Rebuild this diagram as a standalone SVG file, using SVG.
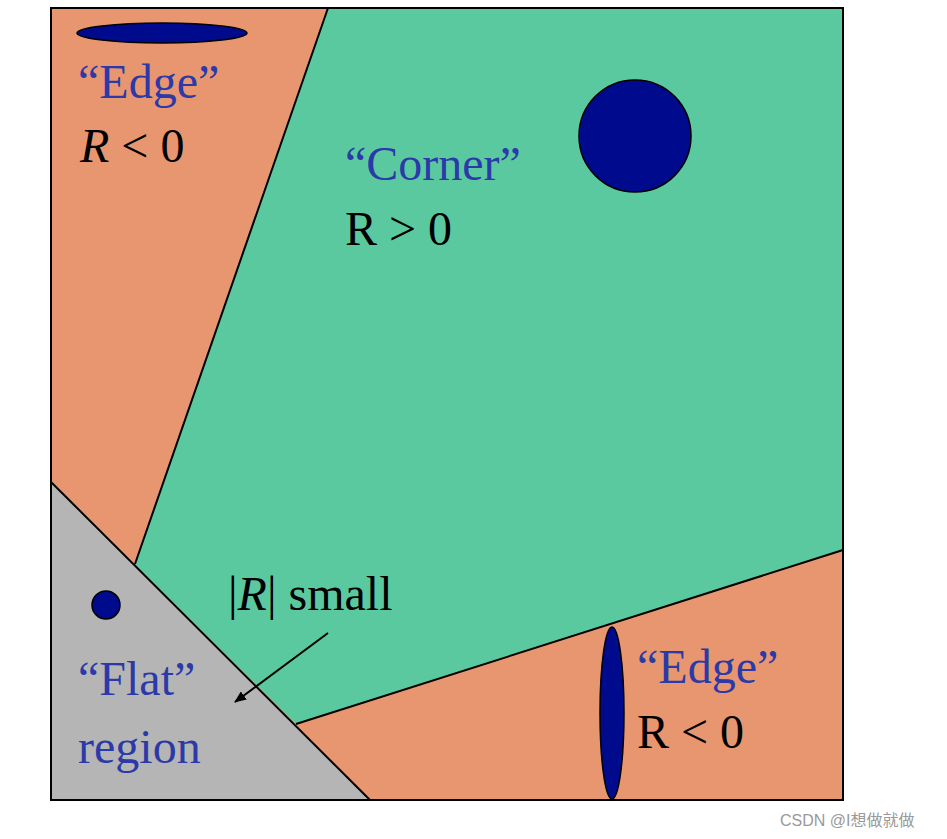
<svg xmlns="http://www.w3.org/2000/svg" width="947" height="839" viewBox="0 0 947 839">
<defs>
<style>
.t{font-family:"Liberation Serif",serif;font-size:48px}
.b{fill:#2b3aa8}
.k{fill:#000}
.blob{fill:#000a8c;stroke:#000;stroke-width:1.5}
.ln{stroke:#000;stroke-width:2;fill:none}
</style>
<marker id="ah" markerWidth="12" markerHeight="10" refX="11" refY="5" orient="auto" markerUnits="userSpaceOnUse">
<path d="M0,0 L12,5 L0,10 Z" fill="#000"/>
</marker>
</defs>
<rect width="947" height="839" fill="#fff"/>
<g id="edge-region"><rect x="51" y="8" width="792" height="792" fill="#e8966f"/></g>
<g id="corner-region"><polygon points="328,8 843,8 843,550 296,724 135,564" fill="#5bc9a0"/></g>
<g id="flat-region"><polygon points="51,482 370,800 51,800" fill="#b5b5b5"/></g>
<g id="connectors">
<polyline class="ln" points="328,8 135,564"/>
<polyline class="ln" points="843,550 296,724"/>
<polyline class="ln" points="51,482 370,800"/>
<line class="ln" x1="328" y1="633" x2="235" y2="702" marker-end="url(#ah)"/>
</g>
<rect x="51" y="8" width="792" height="792" fill="none" stroke="#000" stroke-width="2"/>
<g id="blobs">
<ellipse class="blob" cx="162" cy="33" rx="85" ry="10"/>
<circle class="blob" cx="635" cy="136" r="56"/>
<circle class="blob" cx="106" cy="605" r="14"/>
<ellipse class="blob" cx="612" cy="713" rx="12" ry="86"/>
</g>
<g id="labels">
<text class="t b" x="78" y="98">“Edge”</text>
<text class="t k" x="80" y="162"><tspan font-style="italic">R</tspan> &lt; 0</text>
<text class="t b" x="345" y="180">“Corner”</text>
<text class="t k" x="345" y="245">R &gt; 0</text>
<text class="t k" x="228" y="610">|<tspan font-style="italic">R</tspan>| small</text>
<text class="t b" x="78" y="695">“Flat”</text>
<text class="t b" x="78" y="763">region</text>
<text class="t b" x="637" y="683">“Edge”</text>
<text class="t k" x="637" y="748">R &lt; 0</text>
<text x="780" y="826" font-family="'Liberation Sans','Noto Sans CJK SC',sans-serif" font-size="16" fill="#999">CSDN @I想做就做</text>
</g>
</svg>
